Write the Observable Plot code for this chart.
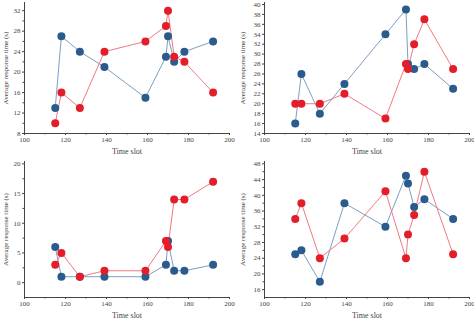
<!DOCTYPE html>
<html>
<head>
<meta charset="utf-8">
<script src="https://cdn.jsdelivr.net/npm/d3@7"></script>
<script src="https://cdn.jsdelivr.net/npm/@observablehq/plot@0.6"></script>
<style>
  html, body { margin: 0; padding: 0; background: #fff; }
  #wrap { position: relative; width: 474px; height: 321px; overflow: hidden; }
  #wrap > svg { position: absolute; overflow: visible; }
</style>
</head>
<body>
<div id="wrap"></div>
<script>
const timeSlots = [115, 118, 127, 139, 159, 169, 170, 173, 178, 192];

const blue1 = [13, 27, 24, 21, 15, 23, 27, 22, 24, 26];
const red1  = [10, 16, 13, 24, 26, 29, 32, 23, 22, 16];

const blue2 = [16, 26, 18, 24, 34, 39, 28, 27, 28, 23];
const red2  = [20, 20, 20, 22, 17, 28, 27, 32, 37, 27];

const blue3 = [6, 1, 1, 1, 1, 3, 7, 2, 2, 3];
const red3  = [3, 5, 1, 2, 2, 7, 6, 14, 14, 17];

const blue4 = [25, 26, 18, 38, 32, 45, 43, 37, 39, 34];
const red4  = [34, 38, 24, 29, 41, 24, 30, 35, 46, 25];

const xTicks = [100, 120, 140, 160, 180, 200];
const xMinor = [110, 130, 150, 170, 190];
const yTicks1 = [8, 12, 16, 20, 24, 28, 32];
const yTicks2 = [14, 16, 18, 20, 22, 24, 26, 28, 30, 32, 34, 36, 38, 40];
const yTicks3 = [0, 5, 10, 15, 20];
const yTicks4 = [16, 20, 24, 28, 32, 36, 40, 44, 48];

const xLabel = "Time slot";
const yLabel = "Average response time (s)";

const BLUE_DOT = "#2a5b8c", BLUE_LINE = "#7d9fc2";
const RED_DOT = "#e31e2a", RED_LINE = "#ef7a80";
const AXIS = "#444";

function panel(blue, red, opts) {
  const rows = (vals, s) => timeSlots.map((t, i) => ({t, v: vals[i], s}));
  const b = rows(blue, "b"), r = rows(red, "r");
  const yMinor = opts.yMinor || [];
  return Plot.plot({
    width: 237,
    height: opts.height,
    marginLeft: opts.ml,
    marginRight: opts.mr,
    marginTop: opts.mt,
    marginBottom: opts.mb,
    style: {fontFamily: "'Liberation Serif', 'DejaVu Serif', serif", fontSize: "7px", color: "#444", background: "transparent", overflow: "visible"},
    x: {domain: [100, 200]},
    y: {domain: opts.yDomain},
    marks: [
      Plot.axisX(xTicks, {tickSize: 2, tickPadding: 2, stroke: AXIS, fontSize: 7, label: null}),
      Plot.axisX(xMinor, {tickSize: 1.5, tickFormat: () => "", stroke: AXIS, label: null}),
      Plot.axisY(opts.yTicks, {tickSize: 2, tickPadding: 2, stroke: AXIS, fontSize: 7, label: null}),
      Plot.axisY(yMinor, {tickSize: 1.5, tickFormat: () => "", stroke: AXIS, label: null}),
      Plot.ruleY([opts.yDomain[0]], {stroke: AXIS, strokeWidth: 1}),
      Plot.ruleX([100], {stroke: AXIS, strokeWidth: 1}),
      Plot.text([xLabel], {frameAnchor: "bottom", dy: opts.xLabelDy, fontSize: 8, fill: "#444"}),
      Plot.text([yLabel], {frameAnchor: "left", textAnchor: "middle", rotate: -90, dx: opts.yLabelDx, fontSize: 7, fill: "#444"}),
      Plot.line(b, {x: "t", y: "v", stroke: BLUE_LINE, strokeWidth: 1}),
      Plot.line(r, {x: "t", y: "v", stroke: RED_LINE, strokeWidth: 1}),
      Plot.dot(b, {x: "t", y: "v", r: 4, fill: BLUE_DOT, stroke: null}),
      Plot.dot(r, {x: "t", y: "v", r: 4, fill: RED_DOT, stroke: null})
    ]
  });
}

const minor = (ticks) => ticks.slice(0, -1).map((t, i) => (t + ticks[i + 1]) / 2);

const p1 = panel(blue1, red1, {height: 160, ml: 24, mr: 8, mt: 2, mb: 27, yDomain: [8, 33.6], yTicks: yTicks1, yMinor: minor(yTicks1), xLabelDy: 20, yLabelDx: -19});
const p2 = panel(blue2, red2, {height: 160, ml: 27, mr: 5, mt: 2, mb: 27, yDomain: [14, 40.4], yTicks: yTicks2, yMinor: [], xLabelDy: 20, yLabelDx: -22});
const p3 = panel(blue3, red3, {height: 161, ml: 24, mr: 8, mt: 1, mb: 24, yDomain: [-2.5, 20.4], yTicks: yTicks3, yMinor: minor(yTicks3), xLabelDy: 20, yLabelDx: -19});
const p4 = panel(blue4, red4, {height: 161, ml: 27, mr: 5, mt: 1, mb: 24, yDomain: [14, 48.6], yTicks: yTicks4, yMinor: minor(yTicks4), xLabelDy: 20, yLabelDx: -22});

const wrap = document.getElementById("wrap");
[[p1, 0, 0], [p2, 237, 0], [p3, 0, 160], [p4, 237, 160]].forEach(([svg, x, y]) => {
  svg.style.left = x + "px";
  svg.style.top = y + "px";
  wrap.appendChild(svg);
});
</script>
</body>
</html>
